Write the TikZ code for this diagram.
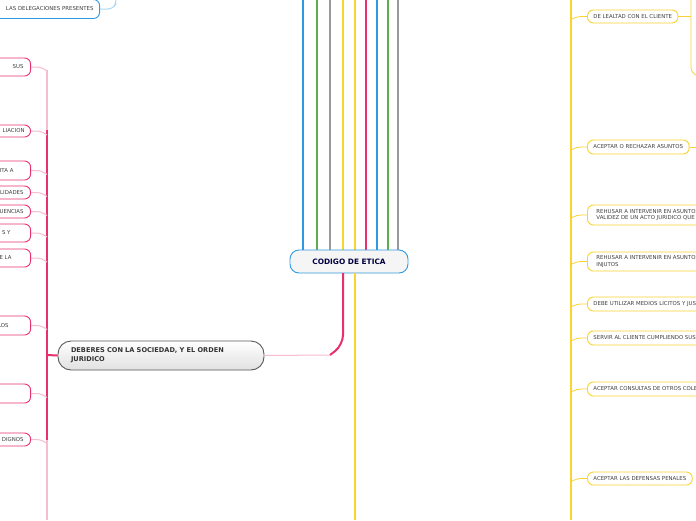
\documentclass[tikz,border=0pt]{standalone}
\usepackage{fontspec}
\setmainfont{DejaVu Sans}
\begin{document}
\begin{tikzpicture}[x=1pt,y=-1pt,
 leaf/.style={draw=#1,line width=0.9pt,rounded corners=6pt,fill=white,font=\fontsize{5.4}{6.4}\selectfont,text=black!75,inner xsep=6pt,inner ysep=2pt,align=left},
 lleaf/.style={leaf=pinkc,anchor=east,text width=100pt,align=right,minimum height=#1},
 rleaf/.style={leaf=yelc,anchor=west,minimum height=#1}]
\definecolor{bluec}{HTML}{2E9BE0}\definecolor{greenc}{HTML}{5BAE4B}\definecolor{grayc}{HTML}{9A9A9E}
\definecolor{yelc}{HTML}{F8D332}\definecolor{pinkc}{HTML}{E8316B}\definecolor{lpink}{HTML}{F6BCD0}
\useasboundingbox (0,0) rectangle (696,520);
\clip (0,0) rectangle (696,520);
% central trunks
\foreach \x/\c in {303/bluec,316.5/greenc,330/grayc,343/yelc,355/yelc,366/pinkc,377/bluec,387.5/greenc,398/grayc}
  \draw[\c,line width=2pt] (\x,0) -- (\x,255);
\node[draw=bluec,line width=0.9pt,rounded corners=9pt,fill=black!4,minimum width=118pt,minimum height=23pt,font=\bfseries\fontsize{7.4}{8}\selectfont,text=blue!25!black] (c) at (349,261.5) {CODIGO DE ETICA};
\coordinate (cy) at (355,273);
\coordinate (cp) at (343,273);
\draw[yelc,line width=2pt] (cy) -- (355,520);
% DEBERES
\node[draw=black!65,line width=0.9pt,rounded corners=13pt,top color=white,bottom color=black!12,minimum width=206pt,minimum height=29pt,text width=180pt,align=left,font=\bfseries\fontsize{6.6}{8.6}\selectfont,text=black!80] (d) at (161,355.5) {DEBERES CON LA SOCIEDAD, Y EL ORDEN\\JURIDICO};
\draw[pinkc,line width=2pt,rounded corners=10pt] (cp) -- (343,345) -- (330,355);
\draw[lpink,line width=1pt] (330,355) -- (d.east);
\draw[pinkc,line width=2pt] (d.west) -- (47,355);
% left trunk
\draw[lpink,line width=1.2pt] (47,70) -- (47,520);
\draw[pinkc,line width=2pt] (47,130) -- (47,440);
\foreach \n/\ya/\yb/\t/\p in {a/58/76/{SUS\\[5pt]}/7,b/125/137/LIACION/6,c/161/180/{ITA A\\[5pt]}/17,d/186/199/LIDADES/7,e/205/218/UENCIAS/7,f/224/242/{S Y\\[5pt]}/20,g/249/267/{E LA\\[5pt]}/19,h/316/335/{LOS\\[5pt]}/22,i/384/403/{}/6,j/433/446/DIGNOS/7}{
  \node[lleaf=\yb-\ya,inner xsep=\p pt] (l\n) at (31,{(\ya+\yb)/2}) {\t};
  \draw[lpink,line width=1pt,rounded corners=4pt] (l\n.east) -- (41,{(\ya+\yb)/2}) -- (47,{(\ya+\yb)/2+4});
}
% top blue
\node[leaf=bluec,anchor=east,text width=150pt,align=right,minimum height=19pt] (tb) at (100,9) {LAS DELEGACIONES PRESENTES};
\draw[bluec!40,line width=1pt,rounded corners=4pt] (tb.east) -- (112,9) -- (116,4) -- (116,0);
% right trunk
\draw[yelc,line width=1.2pt] (571,0) -- (571,520);
\foreach \n/\ya/\yb/\t in {a/10/23/{DE LEALTAD CON EL CLIENTE},b/140/154/{ACEPTAR O RECHAZAR ASUNTOS},c/205/225/{\hspace*{3pt}REHUSAR A INTERVENIR EN ASUNTOS\\\hspace*{3pt}VALIDEZ DE UN ACTO JURIDICO QUE},d/252/271/{\hspace*{3pt}REHUSAR A INTERVENIR EN ASUNTOS\\\hspace*{3pt}INJUTOS},e/297/311/{DEBE UTILIZAR MEDIOS LICITOS Y JUSTOS},f/331/345/{SERVIR AL CLIENTE CUMPLIENDO SUS},g/382/396/{ACEPTAR CONSULTAS DE OTROS COLEGAS},h/472/485/{ACEPTAR LAS DEFENSAS PENALES}}{
  \node[rleaf=\yb-\ya] (r\n) at (587,{(\ya+\yb)/2}) {\t};
  \draw[yelc,line width=0.8pt,rounded corners=4pt] (571,{(\ya+\yb)/2+3}) -- (577,{(\ya+\yb)/2}) -- (r\n.west);
}
\coordinate (ra2) at (691,16.5);
\coordinate (rb2) at (696,147);
\draw[yelc,line width=0.8pt] (ra.east) -- (ra2);
\draw[yelc,line width=0.8pt,rounded corners=4pt] (691,0) -- (691,72) -- (696,75);
\draw[yelc,line width=0.8pt] (rb.east) -- (rb2);
\end{tikzpicture}
\end{document}
